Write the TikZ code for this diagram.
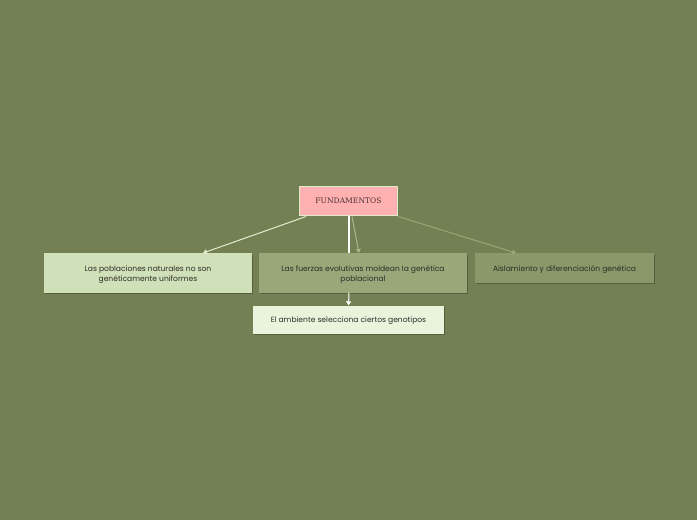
\documentclass[tikz,border=0pt]{standalone}
\usepackage{fontspec}
\setmainfont{Poppins}
\newfontfamily\titlefont{DejaVu Serif}
\usetikzlibrary{arrows.meta,shadows}
\definecolor{bg}{RGB}{114,128,83}
\definecolor{rootfill}{RGB}{255,176,176}
\definecolor{rootborder}{RGB}{222,234,200}
\definecolor{fillA}{RGB}{208,224,184}
\definecolor{fillB}{RGB}{152,168,120}
\definecolor{fillC}{RGB}{138,153,106}
\definecolor{fillD}{RGB}{233,244,221}
\definecolor{txt}{RGB}{45,45,40}
\definecolor{titletxt}{RGB}{75,50,50}
\definecolor{lineA}{RGB}{224,236,208}
\definecolor{lineB}{RGB}{168,184,136}
\definecolor{lineC}{RGB}{150,166,116}
\tikzset{
  box/.style={draw=none, inner sep=0pt,
    drop shadow={shadow xshift=1bp, shadow yshift=-1.5bp, opacity=0.25, fill=black}},
  boxtext/.style={inner sep=0pt, align=center, text=txt, yshift=-1.5bp,
    font=\fontsize{7.6}{10.2}\selectfont},
  conn/.style={-{Triangle[width=5bp,length=4bp]}, line width=1bp},
}
\begin{document}
\begin{tikzpicture}[x=1bp,y=-1bp]
\fill[bg] (0,0) rectangle (697,520);
\useasboundingbox (0,0) rectangle (697,520);
% nodes
\node[box, fill=fillA, minimum width=208bp, minimum height=39bp] (a) at (148,273) {};
\node[boxtext] (at) at (a.center) {Las poblaciones naturales no son\\genéticamente uniformes};
\node[box, fill=fillB, minimum width=208bp, minimum height=39bp] (b) at (363,273) {};
\node[boxtext] (bt) at (b.center) {Las fuerzas evolutivas moldean la genética\\poblacional};
\node[box, fill=fillC, minimum width=179bp, minimum height=29bp] (c) at (564.5,268) {};
\node[boxtext] (ct) at (c.center) {Aislamiento y diferenciación genética};
\node[box, fill=fillD, minimum width=191bp, minimum height=28bp] (d) at (348.5,319.5) {};
\node[boxtext] (dt) at (d.center) {El ambiente selecciona ciertos genotipos};
% connectors
\coordinate (r1) at (306,216.5);
\coordinate (r2) at (349,216.5);
\coordinate (r3) at (352,216.5);
\coordinate (r4) at (398,216.5);
\draw[conn, draw=lineA, fill=lineA] (r1) -- (203,253);
\draw[line width=1.2bp, draw=white!92!lineA] (r2) -- (349,253);
\draw[conn, draw=white!92!lineA, fill=white!92!lineA] (349,292.5) -- (d.north);
\draw[conn, draw=lineB, fill=lineB] (r3) -- (359,253);
\draw[conn, draw=lineC, fill=lineC] (r4) -- (516,253);
% root
\node[draw=rootborder, line width=1bp, fill=rootfill, minimum width=98bp, minimum height=29bp, inner sep=0pt,
  text=titletxt, font=\titlefont\fontsize{7.6}{9}\selectfont] (root) at (348.5,201) {FUNDAMENTOS};
\end{tikzpicture}
\end{document}
